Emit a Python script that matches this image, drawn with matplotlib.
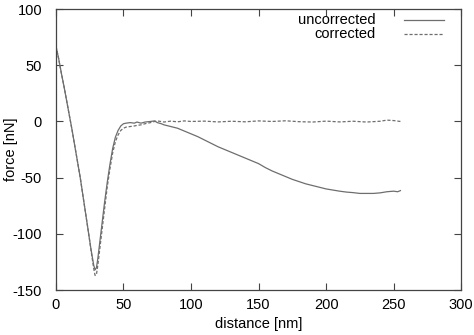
#!/usr/bin/env python
# -*- coding: utf-8 -*-

import matplotlib
matplotlib.use('Agg')
import matplotlib.pyplot as plt
from matplotlib.lines import Line2D

plt.rcParams['font.family'] = ['Liberation Sans', 'DejaVu Sans']
plt.rcParams['axes.unicode_minus'] = False

# force-distance curves (nm, nN)
dist_unc = [0, 2, 4, 6, 8, 10, 12, 14, 16, 18, 20, 22, 24, 26, 27, 28, 29, 30,
            31, 32, 34, 36, 38, 40, 42, 44, 46, 48, 50, 52, 55, 58, 60, 63, 66,
            70, 73, 75, 78, 80, 85, 90, 95, 100, 105, 110, 115, 120, 125, 130,
            135, 140, 145, 150, 155, 160, 165, 170, 175, 180, 185, 190, 195, 200,
            205, 210, 215, 220, 225, 230, 235, 240, 245, 250, 253, 255]
force_unc = [67, 56, 43, 31, 18, 5, -8, -22, -36, -50, -66, -82, -98, -114,
             -121, -128, -132, -130, -122, -112, -92, -72, -54, -38, -24, -14,
             -8, -4, -2, -1.5, -1, -1.5, -0.5, -1.5, -0.5, 0, 0.5, -1, -2, -3,
             -4.5, -6, -8.5, -11, -13.5, -16.5, -19.5, -22.5, -25, -27.5, -30,
             -32.5, -35, -37.5, -41, -44, -46.5, -49, -51.5, -53.5, -55.5, -57,
             -58.5, -60, -61, -62, -62.8, -63.3, -64, -64, -64, -63.5, -62.5,
             -62, -62.5, -61.5]

dist_cor = [0, 2, 4, 6, 8, 10, 12, 14, 16, 18, 20, 22, 24, 26, 27, 28, 29, 30,
            31, 32, 34, 36, 38, 40, 42, 44, 46, 48, 50, 52, 55, 58, 60, 63, 66,
            70, 73, 75, 80, 85, 90, 95, 100, 110, 120, 130, 140, 150, 160, 170,
            180, 190, 200, 210, 220, 230, 240, 245, 250, 255]
force_cor = [67, 56, 43, 31, 18, 5, -8, -22, -36, -50, -66, -82, -98, -115,
             -123, -131, -137, -136, -128, -118, -98, -78, -58, -42, -28, -18,
             -12, -8, -6, -5, -4.5, -4, -3.5, -3, -2, -1, 0, 0.5, -0.5, 0.3,
             -0.3, 0.5, 0, 0.3, -0.4, 0.2, -0.3, 0.5, 0, 0.6, -0.2, -0.5, 0.3,
             -0.4, 0.2, -0.5, 0.2, 1.2, 0.8, 0]

xticks = [0, 50, 100, 150, 200, 250, 300]
yticks = [-150, -100, -50, 0, 50, 100]


def plot_curves(ofname='out.png'):
    fig = plt.figure(figsize=(4.74, 3.35), dpi=100)
    ax = fig.add_axes([0.118, 0.134, 0.855, 0.839])

    col = '#6e6e6e'
    ax.plot(dist_unc, force_unc, color=col, lw=0.9)
    ax.plot(dist_cor, force_cor, color=col, lw=0.9, ls=(0, (2.5, 1.5)))

    ax.set_xlim(0, 300)
    ax.set_ylim(-150, 100)
    ax.set_xticks(xticks)
    ax.set_yticks(yticks)
    ax.tick_params(direction='in', length=5, width=0.8, color='#444444',
                   top=True, right=True, labelsize=10.5)
    ax.tick_params(axis='x', pad=6)
    ax.tick_params(axis='y', pad=10)
    for s in ax.spines.values():
        s.set_color('#444444')
        s.set_linewidth(0.9)

    ax.set_xlabel('distance [nm]', fontsize=10.5, labelpad=3)
    ax.set_ylabel('force [nN]', fontsize=10.5)
    ax.yaxis.set_label_coords(-0.094, 0.5)

    # gnuplot-style key: right-aligned text, sample line on the right
    tr = ax.transAxes
    for i, (lab, ls) in enumerate([('uncorrected', '-'),
                                   ('corrected', (0, (2.5, 1.5)))]):
        yk = 0.962 - i * 0.05
        ax.text(0.788, yk, lab, transform=tr, ha='right', va='center',
                fontsize=10.5)
        ax.add_line(Line2D([0.86, 0.958], [yk, yk], transform=tr,
                           color=col, lw=0.9, ls=ls))

    fig.savefig(ofname, dpi=100)


plot_curves()
